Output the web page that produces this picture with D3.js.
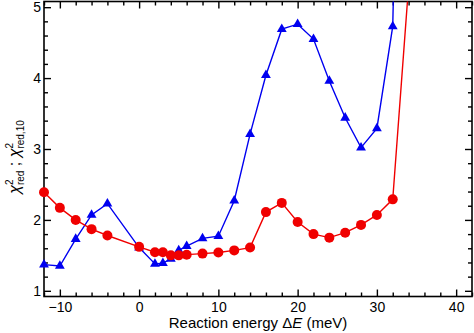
<!DOCTYPE html>
<html>
<head>
<meta charset="utf-8">
<script src="https://cdn.jsdelivr.net/npm/d3@7"></script>
<style>
  body { margin: 0; background: #fff; }
  text { font-family: "Liberation Sans", Arial, sans-serif; }
</style>
</head>
<body>
<div id="chart"></div>
<script>
// reaction energy grid (meV), shared by both curves
const energy = [-12, -10, -8, -6, -4, 0, 2, 3, 4, 5, 6, 8, 10, 12, 14, 16, 18, 20, 22, 24, 26, 28, 30, 32, 34];
// red circles
const chiRed = [2.39, 2.17, 2.00, 1.87, 1.78, 1.62, 1.545, 1.545, 1.50, 1.50, 1.51, 1.525, 1.54, 1.57, 1.61,
                2.11, 2.24, 1.97, 1.80, 1.75, 1.82, 1.93, 2.07, 2.29, 5.3];
// blue triangles
const chiRed10 = [1.37, 1.35, 1.73, 2.07, 2.23, 1.61, 1.38, 1.39, 1.45, 1.57, 1.63, 1.74, 1.77, 2.27, 3.21,
                  4.04, 4.69, 4.76, 4.55, 3.96, 3.44, 3.02, 3.29, 4.73, 15];
const xMajor = [-10, 0, 10, 20, 30, 40];
const yMajor = [1, 2, 3, 4, 5];

const W = 474, H = 333;
const margin = { top: 1.5, right: 2, bottom: 36.5, left: 44 };

const svg = d3.select("#chart").append("svg")
    .attr("width", W)
    .attr("height", H);

const x = d3.scaleLinear().domain([-12, 42]).range([margin.left, W - margin.right]);
const y = d3.scaleLinear().domain([0.92, 5.08]).range([H - margin.bottom, margin.top]);

// clip for the lines so the off-scale points run out the top
svg.append("clipPath").attr("id", "plotClip")
  .append("rect")
    .attr("x", margin.left)
    .attr("y", margin.top)
    .attr("width", W - margin.right - margin.left)
    .attr("height", H - margin.bottom - margin.top);

const xMinor = d3.range(-12, 43, 2).filter(v => !xMajor.includes(v));
const yMinor = d3.range(1, 5.01, 0.2).map(v => +v.toFixed(1)).filter(v => !yMajor.includes(v));

function styleAxis(g) {
    g.select(".domain").remove();
    g.selectAll("line").attr("stroke", "#000").attr("stroke-width", 1.4);
    g.selectAll("text").attr("font-size", 14).attr("fill", "#000");
}

// bottom
svg.append("g").attr("transform", `translate(0,${y.range()[0]})`)
    .call(d3.axisBottom(x).tickValues(xMajor).tickSize(-7).tickPadding(6).tickFormat(d3.format("d")))
    .call(styleAxis);
svg.append("g").attr("transform", `translate(0,${y.range()[0]})`)
    .call(d3.axisBottom(x).tickValues(xMinor).tickSize(-4).tickFormat(""))
    .call(styleAxis);
// top
svg.append("g").attr("transform", `translate(0,${y.range()[1]})`)
    .call(d3.axisTop(x).tickValues(xMajor).tickSize(-7).tickFormat(""))
    .call(styleAxis);
svg.append("g").attr("transform", `translate(0,${y.range()[1]})`)
    .call(d3.axisTop(x).tickValues(xMinor).tickSize(-4).tickFormat(""))
    .call(styleAxis);
// left
svg.append("g").attr("transform", `translate(${x.range()[0]},0)`)
    .call(d3.axisLeft(y).tickValues(yMajor).tickSize(-7).tickPadding(3).tickFormat(d3.format("d")))
    .call(styleAxis);
svg.append("g").attr("transform", `translate(${x.range()[0]},0)`)
    .call(d3.axisLeft(y).tickValues(yMinor).tickSize(-4).tickFormat(""))
    .call(styleAxis);
// right
svg.append("g").attr("transform", `translate(${x.range()[1]},0)`)
    .call(d3.axisRight(y).tickValues(yMajor).tickSize(-7).tickFormat(""))
    .call(styleAxis);
svg.append("g").attr("transform", `translate(${x.range()[1]},0)`)
    .call(d3.axisRight(y).tickValues(yMinor).tickSize(-4).tickFormat(""))
    .call(styleAxis);

// frame
svg.append("rect")
    .attr("x", x.range()[0])
    .attr("y", y.range()[1])
    .attr("width", x.range()[1] - x.range()[0])
    .attr("height", y.range()[0] - y.range()[1])
    .attr("fill", "none")
    .attr("stroke", "#000")
    .attr("stroke-width", 1.6);

const line = d3.line().x(d => x(d[0])).y(d => y(d[1]));
const inView = d => d[1] <= y.domain()[1];

// blue triangles
const blueData = energy.map((e, i) => [e, chiRed10[i]]);
svg.append("path")
    .datum(blueData)
    .attr("clip-path", "url(#plotClip)")
    .attr("d", line)
    .attr("fill", "none")
    .attr("stroke", "#0000f0")
    .attr("stroke-width", 1.4);
svg.selectAll(".tri").data(blueData.filter(inView)).enter()
  .append("path")
    .attr("class", "tri")
    .attr("transform", d => `translate(${x(d[0])},${y(d[1])})`)
    .attr("d", d3.symbol().type(d3.symbolTriangle).size(42))
    .attr("fill", "#0000f0");

// red circles
const redData = energy.map((e, i) => [e, chiRed[i]]);
svg.append("path")
    .datum(redData)
    .attr("clip-path", "url(#plotClip)")
    .attr("d", line)
    .attr("fill", "none")
    .attr("stroke", "#f00000")
    .attr("stroke-width", 1.4);
svg.selectAll(".dot").data(redData.filter(inView)).enter()
  .append("circle")
    .attr("class", "dot")
    .attr("cx", d => x(d[0]))
    .attr("cy", d => y(d[1]))
    .attr("r", 5)
    .attr("fill", "#f00000");

// x label
const xl = svg.append("text")
    .attr("x", (x.range()[0] + x.range()[1]) / 2)
    .attr("y", 328)
    .attr("text-anchor", "middle")
    .attr("font-size", 15)
    .attr("fill", "#000");
xl.append("tspan").text("Reaction energy \u0394");
xl.append("tspan").attr("font-style", "italic").text("E");
xl.append("tspan").text(" (meV)");

// y label: chi^2_red ; chi^2_red,10
const yl = svg.append("text")
    .attr("transform", "translate(20,157) rotate(-90)")
    .attr("text-anchor", "middle")
    .attr("font-size", 16)
    .attr("fill", "#000");
function chiTerm(sub) {
    yl.append("tspan").attr("font-style", "italic").text("\u03c7");
    yl.append("tspan").attr("font-size", 10).attr("dy", -7).text("2");
    yl.append("tspan").attr("font-size", 10).attr("dx", -5.6).attr("dy", 11).text(sub);
}
chiTerm("red");
yl.append("tspan").attr("dy", -4).text(" ; ");
chiTerm("red,10");
</script>
</body>
</html>
